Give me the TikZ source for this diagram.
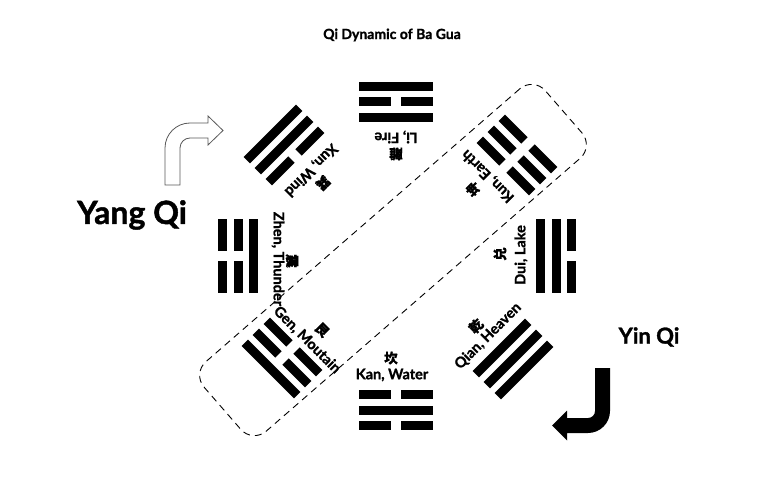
\documentclass[tikz,border=0pt]{standalone}
\usepackage{fontspec}
\setmainfont{Lato}[BoldFeatures={FakeBold=1.3}]
\newfontfamily\cjk{Noto Sans CJK SC}[BoldFeatures={FakeBold=1}]
\newcommand\yangln[1]{\fill (-37,#1-4.5) rectangle (37,#1+4.5);}
\newcommand\yinln[1]{\fill (-37,#1-4.5) rectangle (-5,#1+4.5); \fill (5,#1-4.5) rectangle (37,#1+4.5);}
% #1 position, #2 rotation, #3 line nearest centre, #4 middle, #5 outer
\newcommand\trigram[5]{\begin{scope}[shift={#1},rotate=#2] #3{15.5} #4{0} #5{-15.5}\end{scope}}
\begin{document}
\begin{tikzpicture}[x=1pt,y=1pt,
  lab/.style={font=\bfseries\fontsize{14.5}{14.5}\selectfont, inner sep=0},
  han/.style={font=\cjk\bfseries\fontsize{13.5}{13.5}\selectfont, inner sep=0},
  zonebox/.style={draw, line width=0.9pt, dash pattern=on 7pt off 5pt, rounded corners=18pt,
     minimum width=452pt, minimum height=92pt, inner sep=0},
  qitext/.style={font=\bfseries\fontsize{#1}{#1}\selectfont, inner sep=0}]
\useasboundingbox (0,0) rectangle (768,485);
\fill[white] (0,0) rectangle (768,485);

% title
\node[font=\bfseries\fontsize{14}{14}\selectfont] (title) at (392,450) {Qi Dynamic of Ba Gua};

% dashed zone
\node[zonebox, rotate=41] (zone) at (393,225) {};

% trigrams (line nearest the centre first)
\trigram{(396,383)}{180}{\yangln}{\yinln}{\yangln}   % Li
\trigram{(396,75)}{0}{\yinln}{\yangln}{\yinln}       % Kan
\trigram{(238,229)}{-90}{\yangln}{\yinln}{\yinln}    % Zhen
\trigram{(556,229)}{90}{\yangln}{\yangln}{\yinln}    % Dui
\trigram{(284,340)}{225}{\yinln}{\yangln}{\yangln}   % Xun
\trigram{(517,330)}{135}{\yinln}{\yinln}{\yinln}     % Kun
\trigram{(282,127)}{-45}{\yinln}{\yinln}{\yangln}    % Gen
\trigram{(513,126)}{45}{\yangln}{\yangln}{\yangln}   % Qian

% labels
\node[lab, rotate=180] (liT) at (396,348) {Li, Fire};
\node[han, rotate=180] (liC) at (396,331) {離};
\node[lab] (kanT) at (392,110) {Kan, Water};
\node[han] (kanC) at (391,127) {坎};
\node[lab, rotate=-90] (zhenT) at (278,226) {Zhen, Thunder};
\node[han, rotate=-90] (zhenC) at (292,224) {震};
\node[lab, rotate=90] (duiT) at (521,230) {Dui, Lake};
\node[han, rotate=90] (duiC) at (500,231) {兑};
\node[lab, rotate=225] (xunT) at (311,315) {Xun, Wind};
\node[han, rotate=225] (xunC) at (323,302) {巽};
\node[lab, rotate=135] (kunT) at (488,309) {Kun, Earth};
\node[han, rotate=135] (kunC) at (473,296) {坤};
\node[lab, rotate=-45] (genT) at (307,145) {Gen, Moutain};
\node[han, rotate=-45] (genC) at (322,155) {艮};
\node[lab, rotate=45] (qianT) at (488,149) {Qian, Heaven};
\node[han, rotate=45] (qianC) at (476,159) {乾};

% Yang Qi
\node[qitext=32] (yang) at (132,270) {Yang Qi};
\draw[line width=0.8pt, draw=black!65, fill=white]
  (165,300) -- (165,337) arc[start angle=180, end angle=90, radius=25]
  -- (208,362) -- (208,369) -- (223,354.5) -- (208,340) -- (208,347) -- (190,347)
  arc[start angle=90, end angle=180, radius=10] -- (180,300) -- cycle;

% Yin Qi
\node[qitext=22] (yin) at (649,148) {Yin Qi};
\fill[black]
  (595,117) -- (610,117) -- (610,74) arc[start angle=0, end angle=-90, radius=22]
  -- (567,52) -- (567,44.5) -- (552,59.5) -- (567,74.5) -- (567,67) -- (588,67)
  arc[start angle=-90, end angle=0, radius=7] -- cycle;
\end{tikzpicture}
\end{document}
